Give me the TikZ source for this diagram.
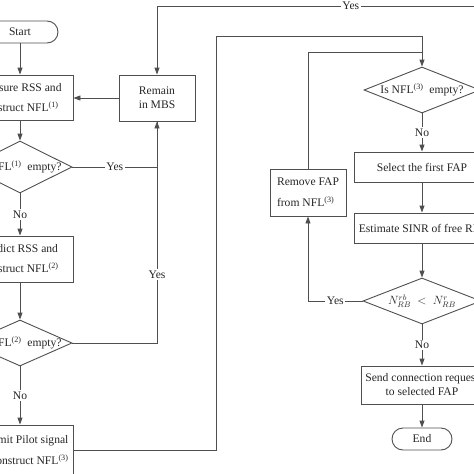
\documentclass[tikz,border=0pt]{standalone}
\usepackage{fontspec}
\setmainfont{Liberation Serif}
\usetikzlibrary{shapes.geometric,arrows.meta}
\definecolor{linegray}{HTML}{4F4F4F}
\definecolor{textgray}{HTML}{262626}
\tikzset{
  base/.style={draw=linegray, line width=0.9pt, text=textgray, align=center,
    inner sep=0pt, font=\fontsize{11.6}{14}\selectfont},
  terminal/.style={base, rounded corners=11pt, minimum height=22pt},
  procbox/.style={base, rectangle},
  decision/.style={base, diamond},
  lbl/.style={fill=white, inner sep=1.5pt, text=textgray, font=\fontsize{11.6}{14}\selectfont},
  flow/.style={draw=linegray, line width=0.9pt},
}
\newcommand{\nfl}[1]{NFL\textsuperscript{(#1)}}
\newcommand{\dtext}[1]{\makebox[0pt]{#1}}
\begin{document}
\begin{tikzpicture}[x=1pt,y=-1pt,>={Triangle[length=7pt,width=5pt]}]
  \useasboundingbox (0,0) rectangle (474,474);
  \clip (0,0) rectangle (474,474);
  % left column
  \node[terminal, minimum width=76pt] (start) at (20,32) {Start};
  \node[procbox, minimum width=106pt, minimum height=45pt,
    font=\fontsize{11.6}{20}\selectfont] (meas) at (20,97.5)
    {Measure RSS and\\construct \nfl{1}};
  \node[decision, minimum width=104pt, minimum height=52pt] (dec1) at (20,167)
    {\dtext{Is \nfl{1}\ \ empty?}};
  \node[procbox, minimum width=106pt, minimum height=46pt,
    font=\fontsize{11.6}{20}\selectfont] (pred) at (20,259)
    {Predict RSS and\\construct \nfl{2}};
  \node[decision, minimum width=104pt, minimum height=46pt] (dec2) at (20,343)
    {\dtext{Is \nfl{2}\ \ empty?}};
  \node[procbox, minimum width=106pt, minimum height=50pt,
    font=\fontsize{11.6}{21}\selectfont] (pilot) at (20,450)
    {Transmit Pilot signal\\and construct \nfl{3}};
  % middle
  \node[procbox, minimum width=76pt, minimum height=46pt] (remain) at (157,98)
    {Remain\\in MBS};
  \node[procbox, minimum width=76pt, minimum height=47pt, align=left,
    font=\fontsize{11.6}{21}\selectfont] (remove) at (308,192.5)
    {Remove FAP\\from \nfl{3}};
  % right column
  \node[decision, minimum width=116pt, minimum height=46pt] (dec3) at (422,90)
    {\dtext{Is \nfl{3}\ \ empty?}};
  \node[procbox, minimum width=136pt, minimum height=30pt] (first) at (422,167)
    {Select the first FAP};
  \node[procbox, minimum width=136pt, minimum height=30pt] (est) at (422,228)
    {Estimate SINR of free RBs};
  \node[decision, minimum width=118pt, minimum height=46pt] (dec4) at (422,301)
    {\dtext{$N^{rb}_{RB}\ <\ N^{r}_{RB}$}};
  \node[procbox, minimum width=122pt, minimum height=38pt] (send) at (422,385)
    {Send connection request\\to selected FAP};
  \node[terminal, minimum width=60pt] (end) at (422,439) {End};
  % routing points
  \coordinate (topR) at (480,6);
  \coordinate (up3) at (216,36);
  \coordinate (join) at (422,52);
  % connectors
  \draw[flow,->] (start) -- (meas);
  \draw[flow,->] (meas) -- (dec1);
  \draw[flow,->] (dec1) -- node[lbl] {No} (pred);
  \draw[flow,->] (pred) -- (dec2);
  \draw[flow,->] (dec2) -- node[lbl] {No} (pilot);
  \draw[flow,->] (dec1.east) -- node[lbl] {Yes} (dec1.east -| remain.south) -- (remain.south);
  \draw[flow] (dec2.east) -- (dec2.east -| remain.south) -- node[lbl, pos=0.31] {Yes} (remain.south);
  \draw[flow,->] (remain.west) -- (meas.east |- remain.west);
  \draw[flow,->] (dec3.east) -- (dec3.east -| topR) -- (topR)
    -- node[lbl, pos=0.40] {Yes} (topR -| remain.north) -- (remain.north);
  \draw[flow,->] (pilot.east) -| (up3) -| (dec3.north);
  \draw[flow] (remove.north) |- (join);
  \draw[flow,->] (dec3) -- node[lbl] {No} (first);
  \draw[flow,->] (first) -- (est);
  \draw[flow,->] (est) -- (dec4);
  \draw[flow,->] (dec4.west) -- node[lbl] {Yes} (dec4.west -| remove.south) -- (remove.south);
  \draw[flow,->] (dec4) -- node[lbl] {No} (send);
  \draw[flow,->] (send) -- (end);
\end{tikzpicture}
\end{document}
